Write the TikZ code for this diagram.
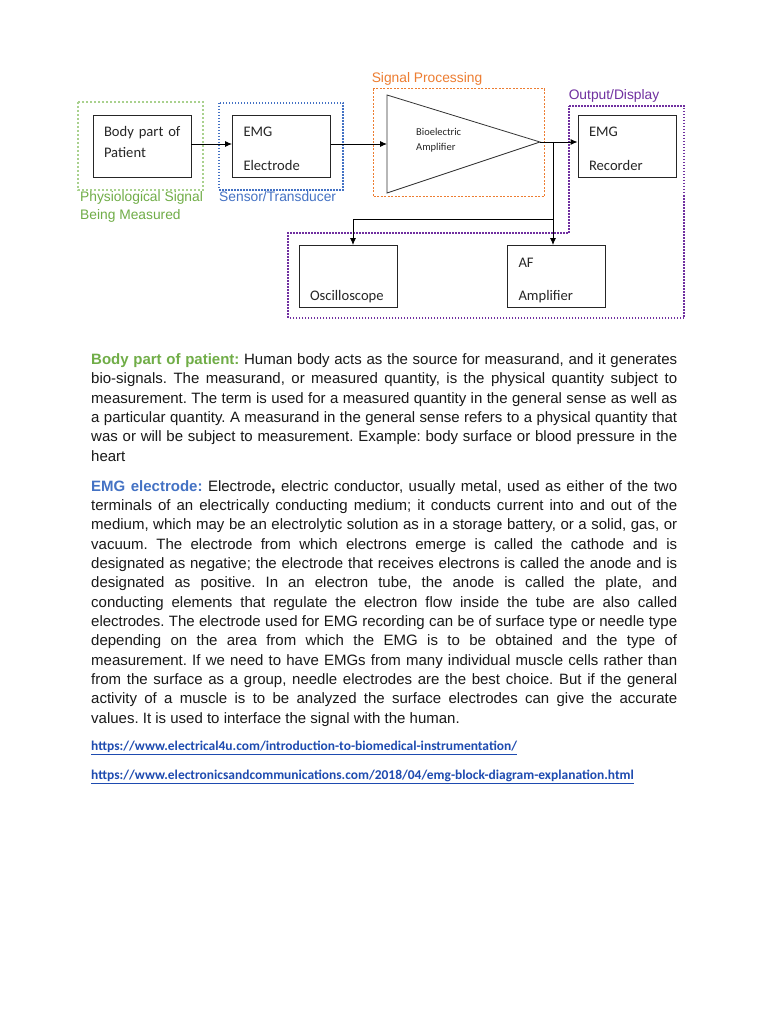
\documentclass[tikz,border=0pt]{standalone}
\usepackage{fontspec}
\setmainfont{Liberation Sans}
\newfontfamily\calfont{Carlito}
\usetikzlibrary{arrows.meta}
\definecolor{grpgreen}{HTML}{A9D18E}
\definecolor{txtgreen}{HTML}{70AD47}
\definecolor{grpblue}{HTML}{4472C4}
\definecolor{grporange}{HTML}{ED7D31}
\definecolor{grppurple}{HTML}{7030A0}
\definecolor{linkblue}{HTML}{1E4BB0}
\frenchspacing
\hyphenpenalty=10000
\tolerance=10000
\tikzset{
	blockbox/.style={draw=black!85, line width=0.9pt, minimum width=98pt, minimum height=62pt, text width=76pt, text height=10pt, text depth=29pt, inner xsep=11pt, inner ysep=0pt, align=left, text=black!85, font=\calfont\fontsize{14.6}{17}\selectfont},
	sigarrow/.style={line width=0.9pt, -{Latex[length=7pt,width=6pt]}},
	grouplabel/.style={inner sep=0pt, font=\fontsize{13.8}{18}\selectfont},
	bodytext/.style={inner sep=0pt, anchor=north west, text width=586pt, align=justify, text=black!90, font=\fontsize{15}{19.35}\selectfont},
	weblink/.style={inner sep=0pt, anchor=base west, text=linkblue, font=\calfont\bfseries\fontsize{13.45}{17}\selectfont}
}

\begin{document}
\begin{tikzpicture}[x=1pt, y=-1pt]
			%%%%% START %%%%%
			
			\fill[white] (0, 0) rectangle (768, 1024);
			\useasboundingbox (0, 0) rectangle (768, 1024);
			
			% groups
			\draw[grpgreen, line width=1.1pt, dash pattern=on 2pt off 2pt] (78, 102) rectangle (203, 190);
			\draw[grpblue, line width=1.3pt, dash pattern=on 1.5pt off 1.5pt] (219, 103) rectangle (343, 190);
			\draw[grporange, line width=1pt, dash pattern=on 2pt off 1.5pt] (373, 89) rectangle (544, 197);
			\draw[grppurple, line width=1.3pt, dash pattern=on 1.5pt off 1.5pt] (569, 106) -- (684, 106) -- (684, 318) -- (288, 318) -- (288, 233) -- (569, 233) -- cycle;
			
			\node[grouplabel, text=txtgreen, align=left, anchor=north west] (physlabel) at (80, 191.5) {Physiological Signal\\Being Measured};
			\node[grouplabel, text=grpblue, anchor=north west] (senslabel) at (219, 191.5) {Sensor/Transducer};
			\node[grouplabel, text=grporange] (proclabel) at (427, 79) {Signal Processing};
			\node[grouplabel, text=grppurple] (outlabel) at (614, 96) {Output/Display};
			
			% blocks
			\node[blockbox] (body) at (142, 146) {\mbox{Body part of}\\[4pt]Patient};
			\node[blockbox] (electrode) at (281.5, 146) {EMG\\[17pt]Electrode};
			\node[blockbox] (recorder) at (627, 146.5) {EMG\\[17pt]Recorder};
			\node[blockbox] (osc) at (348, 276.5) {\strut\\[16pt]Oscilloscope};
			\node[blockbox] (af) at (556.5, 276.5) {AF\\[16pt]Amplifier};
			
			% amplifier
			\draw[line width=0.8pt, black!80] (387, 95) -- (540, 142) -- (387, 193) -- cycle;
			\node[inner sep=0pt, anchor=west, align=left, text=black!85, font=\calfont\fontsize{10.5}{15}\selectfont] (amptext) at (416, 140.5) {Bioelectric\\Amplifier};
			
			\coordinate (ampin) at (387, 144);
			\coordinate (ampout) at (540, 142);
			\coordinate (split) at (553, 142);
			\coordinate (fork) at (553, 219);
			
			% signal path
			\draw[sigarrow] (body.east |- ampin) -- (electrode.west |- ampin);
			\draw[sigarrow] (electrode.east |- ampin) -- (ampin);
			\draw[sigarrow] (ampout) -- (ampout -| recorder.west);
			\draw[sigarrow] (split) -- (split |- af.north);
			\draw[sigarrow] (fork) -| ([xshift=5pt]osc.north);
			
			% text
			\node[bodytext] (parbody) at (91, 353.5) {\textbf{\color{txtgreen}Body part of patient:} Human body acts as the source for measurand, and it generates\linebreak bio-signals. The measurand, or measured quantity, is the physical quantity subject to\linebreak measurement. The term is used for a measured quantity in the general sense as well as\linebreak a particular quantity. A measurand in the general sense refers to a physical quantity that\linebreak was or will be subject to measurement. Example: body surface or blood pressure in the\linebreak heart};
			
			\node[bodytext] (paremg) at (91, 480) {\textbf{\color{grpblue}EMG electrode:} Electrode\textbf{,} electric conductor, usually metal, used as either of the two\linebreak terminals of an electrically conducting medium; it conducts current into and out of the\linebreak medium, which may be an electrolytic solution as in a storage battery, or a solid, gas, or\linebreak vacuum. The electrode from which electrons emerge is called the cathode and is\linebreak designated as negative; the electrode that receives electrons is called the anode and is\linebreak designated as positive. In an electron tube, the anode is called the plate, and\linebreak conducting elements that regulate the electron flow inside the tube are also called\linebreak electrodes. The electrode used for EMG recording can be of surface type or needle type\linebreak depending on the area from which the EMG is to be obtained and the type of\linebreak measurement. If we need to have EMGs from many individual muscle cells rather than\linebreak from the surface as a group, needle electrodes are the best choice. But if the general\linebreak activity of a muscle is to be analyzed the surface electrodes can give the accurate\linebreak values. It is used to interface the signal with the human.};
			
			\node[weblink] (linkone) at (91, 750.5) {\underline{https://www.electrical4u.com/introduction-to-biomedical-instrumentation/}};
			\node[weblink] (linktwo) at (91, 779.5) {\underline{https://www.electronicsandcommunications.com/2018/04/emg-block-diagram-explanation.html}};
			
			%%%%% END %%%%%
\end{tikzpicture}
\end{document}
